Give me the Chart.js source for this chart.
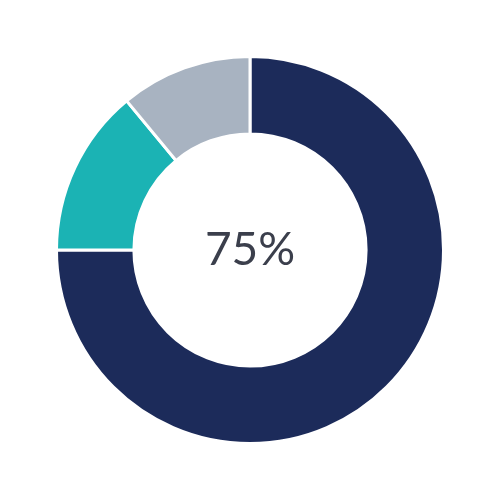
<!DOCTYPE html>
<html>
<head>
<meta charset="utf-8">
<script src="https://cdn.jsdelivr.net/npm/chart.js@4"></script>
<style>
html,body{margin:0;padding:0;background:#fff;}
#wrap{width:500px;height:500px;position:relative;}
</style>
</head>
<body>
<div id="wrap"><canvas id="c" width="500" height="500"></canvas></div>
<script>
const labels = ["Primary", "Secondary", "Other"];
const values = [75, 14, 11];
const colors = ["#1c2b5a", "#1bb3b4", "#a8b3c1"];
const centerText = "75%";

const centerPlugin = {
  id: 'centerText',
  afterDraw(chart) {
    const {ctx, chartArea} = chart;
    const cx = (chartArea.left + chartArea.right) / 2;
    const cy = (chartArea.top + chartArea.bottom) / 2;
    ctx.save();
    ctx.font = '46px Lato';
    ctx.fillStyle = '#3b3f4c';
    ctx.textAlign = 'center';
    ctx.textBaseline = 'middle';
    ctx.fillText(centerText, cx, cy);
    ctx.restore();
  }
};

new Chart(document.getElementById('c'), {
  type: 'doughnut',
  data: {
    labels: labels,
    datasets: [{
      data: values,
      backgroundColor: colors,
      borderColor: '#ffffff',
      borderWidth: 3,
      hoverOffset: 0
    }]
  },
  options: {
    responsive: false,
    animation: false,
    cutout: '60%',
    layout: { padding: 55 },
    plugins: { legend: { display: false }, tooltip: { enabled: false } }
  },
  plugins: [centerPlugin]
});
</script>
</body>
</html>
